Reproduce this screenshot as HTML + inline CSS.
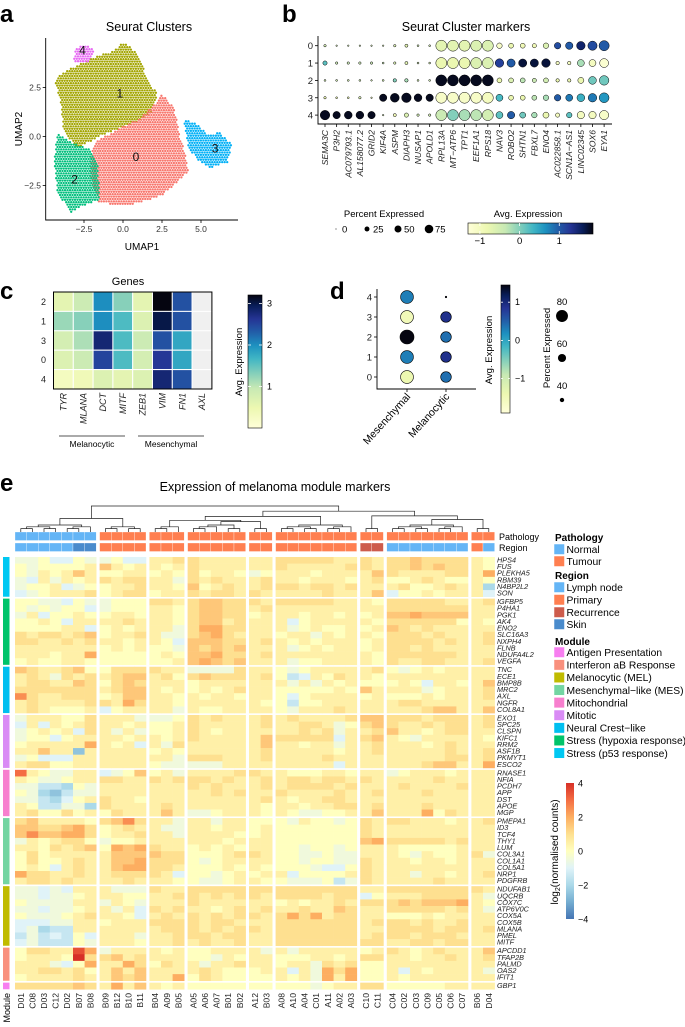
<!DOCTYPE html>
<html><head><meta charset="utf-8">
<style>
html,body{margin:0;padding:0;background:#fff;}
svg{display:block;font-family:"Liberation Sans",Arial,sans-serif;}
</style></head>
<body>
<svg id="fig" width="685" height="1027" viewBox="0 0 685 1027" xmlns="http://www.w3.org/2000/svg">
<defs>
<linearGradient id="gb" x1="0" y1="0" x2="1" y2="0">
<stop offset="0" stop-color="#ffffd9"/><stop offset="0.15" stop-color="#edf8b1"/><stop offset="0.3" stop-color="#c7e9b4"/><stop offset="0.42" stop-color="#7fcdbb"/><stop offset="0.52" stop-color="#41b6c4"/><stop offset="0.62" stop-color="#1d91c0"/><stop offset="0.72" stop-color="#225ea8"/><stop offset="0.82" stop-color="#253494"/><stop offset="0.92" stop-color="#081d58"/><stop offset="1" stop-color="#050510"/>
</linearGradient>
<linearGradient id="gv" x1="0" y1="1" x2="0" y2="0">
<stop offset="0" stop-color="#ffffd9"/><stop offset="0.15" stop-color="#edf8b1"/><stop offset="0.3" stop-color="#c7e9b4"/><stop offset="0.42" stop-color="#7fcdbb"/><stop offset="0.52" stop-color="#41b6c4"/><stop offset="0.62" stop-color="#1d91c0"/><stop offset="0.72" stop-color="#225ea8"/><stop offset="0.82" stop-color="#253494"/><stop offset="0.92" stop-color="#081d58"/><stop offset="1" stop-color="#050510"/>
</linearGradient>
<linearGradient id="gr" x1="0" y1="1" x2="0" y2="0">
<stop offset="0" stop-color="#4575b4"/><stop offset="0.125" stop-color="#74add1"/><stop offset="0.25" stop-color="#abd9e9"/><stop offset="0.375" stop-color="#e0f3f8"/><stop offset="0.5" stop-color="#ffffbf"/><stop offset="0.625" stop-color="#fee090"/><stop offset="0.75" stop-color="#fdae61"/><stop offset="0.875" stop-color="#f46d43"/><stop offset="1" stop-color="#d73027"/>
</linearGradient>
</defs>
</svg>
<script>
// ---------------- DATA ----------------
// Panel a (UMAP cluster regions in UMAP units)
const umapClusters=['0','1','2','3','4'];
const umapPoly0=[[-1.8,-0.3],[-0.5,0.3],[1,0.9],[2,1.6],[2.5,2.2],[3.3,1.4],[3.6,0.2],[4.0,-1.0],[4.2,-1.8],[3.4,-2.4],[2.5,-3.0],[0.5,-3.5],[-1.5,-3.4],[-2.0,-2.5],[-2.1,-1.2]];
const umapPoly1=[[-4.4,2.9],[-3.5,3.4],[-2,4.0],[-0.5,4.4],[0,4.8],[0.6,4.5],[1.2,3.8],[1.6,2.8],[2.2,2.2],[1.8,1.2],[0.5,0.6],[-1,0.2],[-2,-0.2],[-3.0,-0.6],[-3.8,0.3],[-4.0,1.8]];
const umapPoly2=[[-4.2,0.2],[-3.3,-0.3],[-2.2,-0.6],[-1.6,-1.5],[-1.5,-3.2],[-2.5,-3.5],[-3.3,-3.9],[-4.2,-2.9],[-4.4,-1.2]];
const umapPoly3=[[3.9,0.9],[4.8,0.6],[5.4,0.1],[6.2,0.2],[7.0,-0.4],[6.7,-1.3],[5.6,-1.6],[4.8,-1.2],[4.2,-0.6]];
const umapPoly4=[[-3.2,3.8],[-3.0,4.5],[-2.3,4.7],[-1.8,4.3],[-2.2,3.8]];
const umapLabelU=[0.83,-0.2,-3.1,5.9,-2.6];
const umapLabelV=[-1.05,2.2,-2.2,-0.6,4.4];
const umapXTicks=[-2.5,0,2.5,5];
const umapYTicks=[2.5,0,-2.5];

// Panel b (dot plot)
const bGenes=['SEMA3C','P3H2','AC079793.1','AL158077.2','GRID2','KIF4A','ASPM','DIAPH3','NUSAP1','APOLD1','RPL13A','MT−ATP6','TPT1','EEF1A1','RPS18','NAV3','ROBO2','SHTN1','FBXL7','ENO4','AC022858.1','SCN1A−AS1','LINC02345','SOX6','EYA1'];
const bClusters=['0','1','2','3','4'];
const bPct0=[5,2,2,2,2,2,5,8,3,3,100,100,100,100,100,25,20,20,15,25,35,45,60,70,85];
const bAvg0=[-0.5,-0.5,-0.5,-0.5,-0.5,-0.5,-0.6,-0.7,-0.5,-0.5,-0.7,-0.7,-0.7,-0.6,-0.6,-1.1,-0.8,-0.9,-0.9,-0.6,1.1,1.0,1.5,1.1,1.0];
const bPct1=[15,5,5,5,5,3,5,8,3,3,100,100,100,100,100,60,55,55,55,60,10,10,40,40,65];
const bAvg1=[0.2,-0.4,-0.4,-0.4,-0.4,-0.4,-0.6,-0.7,-0.5,-0.5,-0.8,-0.8,-0.8,-0.6,-0.6,1.2,1.0,1.7,1.7,1.7,-1.0,-1.0,-0.2,-1.0,-1.2];
const bPct2=[3,3,3,3,2,3,10,10,3,3,100,100,100,100,100,20,20,20,15,20,10,10,30,50,75];
const bAvg2=[-0.5,-0.5,-0.5,-0.5,-0.5,-0.5,0.0,-0.2,-0.5,-0.5,1.8,1.8,1.8,1.8,1.8,-0.8,-0.6,-0.3,-0.4,-0.5,-0.8,-0.8,-0.8,0.1,0.1];
const bPct3=[5,3,3,5,2,45,65,75,50,45,100,100,100,100,100,40,20,20,20,25,35,40,50,60,80];
const bAvg3=[-0.8,-0.8,-0.8,-0.6,-0.8,1.8,1.8,1.8,1.8,1.8,-1.1,-1.1,-1.1,-1.1,-1.0,0.3,-0.8,-0.8,-0.3,-0.2,1.0,0.8,0.4,0.8,0.6];
const bPct4=[75,45,50,50,45,2,8,15,5,5,100,100,100,100,100,40,45,30,25,30,15,25,45,45,70];
const bAvg4=[1.8,1.8,1.8,1.8,1.8,-0.5,-0.9,-0.6,-0.5,-0.5,-0.4,0.0,-0.2,-0.3,-0.5,0.2,1.0,0.1,-0.2,-0.8,-1.0,0.2,-1.0,-1.0,-1.1];
const bSizeLegend=[0,25,50,75];
const bColorTicks=[-1,0,1];

// Panel c (heatmap)
const cGenes=['TYR','MLANA','DCT','MITF','ZEB1','VIM','FN1','AXL'];
const cClusters=['2','1','3','0','4'];
const cRow2=[0.6,0.9,2.0,1.3,0.6,3.3,2.4,null];
const cRow1=[1.2,1.3,2.0,1.6,0.7,3.0,2.4,null];
const cRow3=[0.8,1.1,2.8,1.6,0.9,2.4,1.8,null];
const cRow0=[0.7,0.9,2.5,1.6,0.8,2.6,1.8,null];
const cRow4=[0.3,0.4,0.7,0.6,0.7,2.8,2.4,null];
const cColorTicks=[1,2,3];

// Panel d
const dCats=['Mesenchymal','Melanocytic'];
const dClusters=['0','1','2','3','4'];
const dPctMes=[75,75,80,75,75];
const dAvgMes=[-1.4,0.3,1.45,-1.5,0.3];
const dPctMel=[65,65,65,65,5];
const dAvgMel=[0.4,0.9,0.4,0.9,1.4];
const dColorTicks=[1,0,-1];
const dSizeLegend=[80,60,40];

// Panel e (heatmap) A=-4 ... I=0 ... Q=4 (0.5 steps)
const eCols=['D01','C08','D03','C12','D02','B07','B08','B09','B12','B10','B11','B04','A09','B05','A05','A06','A07','B01','B02','A12','B03','A08','A10','A04','C01','A11','A02','A03','C10','C11','C04','C02','C03','C09','C05','C06','C07','B06','D04'];
const eGroupSizes=[7,4,3,5,2,7,2,7,2];
const ePathology=['N','N','N','N','N','N','N','T','T','T','T','T','T','T','T','T','T','T','T','T','T','T','T','T','T','T','T','T','T','T','T','T','T','T','T','T','T','T','T'];
const eRegion=['L','L','L','L','L','S','S','P','P','P','P','P','P','P','P','P','P','P','P','P','P','P','P','P','P','P','P','P','R','R','L','L','L','L','L','L','L','P','L'];
const eModuleNames=['Stress (p53 response)','Stress (hypoxia response)','Neural Crest−like','Mitotic','Mitochondrial','Mesenchymal−like (MES)','Melanocytic (MEL)','Interferon aB Response','Antigen Presentation'];
const eModuleSizes=[6,10,7,8,7,10,9,5,1];
const eGenes=['HPS4','FUS','PLEKHA5','RBM39','N4BP2L2','SON','IGFBP5','P4HA1','PGK1','AK4','ENO2','SLC16A3','NXPH4','FLNB','NDUFA4L2','VEGFA','TNC','ECE1','BMP8B','MRC2','AXL','NGFR','COL8A1','EXO1','SPC25','CLSPN','KIFC1','RRM2','ASF1B','PKMYT1','ESCO2','RNASE1','NFIA','PCDH7','APP','DST','APOE','MGP','PMEPA1','ID3','TCF4','THY1','LUM','COL3A1','COL1A1','COL5A1','NRP1','PDGFRB','NDUFAB1','UQCRB','COX7C','ATP6V0C','COX5A','COX5B','MLANA','PMEL','MITF','APCDD1','TFAP2B','PALMD','OAS2','IFIT1','GBP1'];
const eValues=[
"HHIGGIH HIGG JJK KJJJJ JJ KKKKKJJ KJ KKLKKKK JI",
"IHIIIIJ LJIJ JIJ KJJJJ JJ KJJJJJK KJ KKLKLKK JI",
"IHJIJLJ IIJJ IJI KIJJI HI JJJIJJJ JL KJJJJKK JM",
"HGJHJIJ KJKK JJH KJKJJ JK JJIJJJI JK IIJKJII JI",
"HIIJGHI IJJK JJI LIJKJ JK KKJKKJK JJ JKIIJKJ JE",
"GHIJJJK IJKK IJJ KJKKJ KJ JJJJKJJ JL GIIJIJJ JG",
"IIHHGIH HIII KKJ KLLKK KJ KKKKKJJ JI KKKKKJJ JK",
"IHIHIIG HIII JJI KLLKK JK JJJJJJJ JJ KKKKKKK JJ",
"HJGIIJI IJJI JJI KLLKK IJ JJIJJIJ IJ LLMLLLL JJ",
"IIJIGJJ JJKJ JJI KLLJK JJ JGIJJJJ JI KKKKKKI JI",
"IIIIJJG IJIJ JJH KMMKK JJ JHIJIIJ IJ LKJKJJJ JJ",
"KJKKJKL IJJK JHH KLMKJ JJ IJJHJIJ JI KKKJKJJ JK",
"KKJJKJK JJIJ JIG LLLKK JK JIJIJJJ IJ KKKKJKJ JK",
"JJJJJJJ IJIJ IIH LKLKL JJ JHIJIJJ IJ KKJKJJJ JJ",
"JJJIJJM IIII IJI LLMKK JK JJJJJJJ JI KKKKKKJ JJ",
"IJIIJJI IIII IIJ LMLKL JJ JHIIJJJ JI KJJKKJJ JK",
"LKJJKLI IKKK KJJ HHHHK JJ IHIJJJJ JK IHIJIJJ JJ",
"JKJHKJK JKLL JKI KLKKK JK IFGJIKJ JI JJJJJJJ JJ",
"JKKJJLK IKLK JJJ IJJJJ JJ JHJHJIJ II IJIGJJI JL",
"KKKKKKK JKLL JIJ IJIJK JJ IIIIIJI LJ JJJHIJJ JK",
"NKJJKKK IJLL JJI JIJJI JJ IGIJJJJ IJ IIIJIJJ JK",
"JKJJJJK KJMK JJI JJJJJ JI IFIIJJJ JJ JKKJJJJ JJ",
"JKJIIIJ GIJJ JJH JIIJJ JJ IHJJJKJ JJ JJJKLLJ JL",
"HJJJIIK JJJH HHI KJKJJ JK JKJJJJK LL KKKJKKK JK",
"GJGJIJK JJIJ IIJ KJJJJ JK JJKKJHI KL KJJKJKK JK",
"HIJIJGK JHJH IIJ KJIJJ JJ JJKJKHJ JK LJJIJKK JJ",
"HIIGIJJ JJIJ JIJ KJJJJ JL KKKKKGJ KL JIHJJJJ JI",
"IJJJJJM JIJG JHK JJJJJ JL JJIJJHJ JK JJJIJKJ JJ",
"JJLJJDJ JJJJ IJI JJJJJ JK JJJJJIJ JK JJJJJKJ JK",
"HIGGGJJ JJJJ JJH KKKJJ JK JJJJKJJ JJ JJJJJKK JK",
"JKKIIJJ JJJJ IHH HHHJJ JJ JJJJJGJ JJ JJJKLLJ JM",
"OJIHHJJ GHIL IJH JJJJK KJ JIIIJJI JJ HIJJJIJ JJ",
"JIHHIJJ KKJJ KJK KKJKJ JK JKKJKKJ KJ JJJJKJJ JJ",
"HHFFEIH JJJJ JJJ KJKJJ JK JKKKKJK JJ JKJJJJK JJ",
"IHEDFHH JJJJ JJJ JJKJK JJ KJJJJKJ JK JJJKJJJ JJ",
"HHFEGIJ KJJI JJJ JJJJJ JK JIJJKKJ JJ JJJJJJJ JJ",
"JIFFHHE KJJJ JKJ JJJJJ JI JJIJJKK JK JJJKJJJ JJ",
"JKIIKIJ IKJJ JLJ HHIJJ JI JIHHIIJ JL JJJMIKJ JJ",
"KLJJJJI KLNK JJH JJHJJ II IHJIIHI KJ KKJJJIJ JK",
"LLKKLMK IJKJ JHH JJIJJ IJ IIIIIII KJ JJJJJJJ JJ",
"LNLLMMK IJJK JJH JJJJI IJ IIIIIII KJ JJJJJJJ JJ",
"HJIJKKI HIIJ JJJ JJJIJ JJ IIIIIII LM KKKKKJK JJ",
"JJIKJKL IMLM KJJ IJIJI JJ IIHIIHI JJ JIIIIIJ JJ",
"IKIJJJJ JLLL LKK IIIJK KJ IIHHIHH JJ JIHJIIJ KH",
"IKIIJKJ JLLM KKK IHIJJ JJ IIHIIHH KJ JJIJJIJ JJ",
"IJIGJKJ JLMM KKJ IIIJI JI IIIHGGI KJ JJJJJJJ JJ",
"MKKJJKJ JKKK KJG IIHIJ IJ JGIIIIJ KJ JJHJJIJ JK",
"JKKJKJJ JJKJ JJI IHHIJ JI IHHHIFH KJ JJJJKJJ JJ",
"HHGHGJJ JHHH KJJ KKKKK KK KKKKKKK JJ KKKKKKK KJ",
"HHGHHIJ JJII JJK KJKJK KJ KKKKJKK GI JJJKKKK JH",
"IHHHHJJ HJIH JJJ KJJJJ JJ IJIJJKJ KK KLKLLLM JI",
"HHGHHIJ JHJG KJK JJIJK JK JJKJJLK JJ KKKKKJK JH",
"IHHHIJK JJIG JKJ KJKJK KJ KMKMJKK JJ IIIJIJJ JJ",
"GGGHHJJ IJJJ KKK KJKKJ JJ KKKKKKK JK KKJKJJK JJ",
"GHEFFJJ JJJJ JKK KJKJK KJ KKKKKKK JJ KKKKJKK JK",
"FHFGFIG JJJH JJK KKJKK JJ KKKKKKK JK KKJKKKJ JJ",
"GHFFFIH JJJI JJK JKJJK JJ KKKKKKK KK JJKKJKK JJ",
"IKKJJPM HJJJ JIJ IIJJJ JH JHJJJJJ IJ KJIJKJJ JL",
"IJJJIQK KLJK JJJ IIHJI JJ IIIJJIJ KK JJIJJKJ JK",
"JJJHGIM JJMK IKJ JHJJK JJ IJJHKJK II JJJJJJJ JJ",
"JJKKJKI JLJL JJJ JKJII IJ JGJHMKM II JGJIJJJ JH",
"IJJJJKJ JLKL JJM IKJII II JIJHMJM II JIJJJJJ JJ",
"KKKKKLK JMJL JIJ IIIII II IIIHIJJ KK IIIIIJJ JJ"
];
const eScaleTicks=[4,2,0,-2,-4];
// dendrogram: [height, left, right]; 'gN' = group N subtree
const eDendroTop=[1.0,[0.52,'g0','g1'],[0.8,[0.6,[0.45,'g2',[0.4,'g3','g4']],'g5'],[0.62,'g6',[0.48,'g7','g8']]]];

// ---------------- DRAW HELPERS ----------------
const NS='http://www.w3.org/2000/svg';
const svg=document.getElementById('fig');
function mk(tag,attrs,parent){const e=document.createElementNS(NS,tag);for(const k in attrs)e.setAttribute(k,attrs[k]);(parent||svg).appendChild(e);return e;}
function txt(s,attrs,parent){const e=mk('text',attrs,parent);e.textContent=s;return e;}
function hex2rgb(h){return [parseInt(h.substr(1,2),16),parseInt(h.substr(3,2),16),parseInt(h.substr(5,2),16)];}
function interp(stops,t){t=Math.max(0,Math.min(1,t));const n=stops.length-1;const f=t*n;const i=Math.min(n-1,Math.floor(f));const u=f-i;const a=hex2rgb(stops[i]),b=hex2rgb(stops[i+1]);return 'rgb('+a.map((v,k)=>Math.round(v+(b[k]-v)*u)).join(',')+')';}
const YGB=['#ffffd9','#edf8b1','#c7e9b4','#7fcdbb','#41b6c4','#1d91c0','#225ea8','#253494','#081d58','#050510'];
const YGBpos=[0,0.15,0.3,0.42,0.52,0.62,0.72,0.82,0.92,1];
function ygb(t){t=Math.max(0,Math.min(1,t));let i=0;while(i<YGBpos.length-2&&t>YGBpos[i+1])i++;const u=(t-YGBpos[i])/(YGBpos[i+1]-YGBpos[i]);const a=hex2rgb(YGB[i]),b=hex2rgb(YGB[i+1]);return 'rgb('+a.map((v,k)=>Math.round(v+(b[k]-v)*u)).join(',')+')';}
const RDB=['#4575b4','#74add1','#abd9e9','#e0f3f8','#ffffbf','#fee090','#fdae61','#f46d43','#d73027'];
function panelLetter(s,x,y){const t=txt(s,{x:x,y:y,'font-size':24,'font-weight':'bold',fill:'#000'});

}

// ---------------- PANEL A ----------------
panelLetter('a',0,22);
const aT=txt('Seurat Clusters',{x:149,y:31,'font-size':12.5,'text-anchor':'middle'});


const ux=u=>123+u*15.6, uy=v=>136.5-v*19.6;
const aG=mk('g',{});


function inPoly(px,py,poly){let c=false;for(let i=0,j=poly.length-1;i<poly.length;j=i++){const xi=ux(poly[i][0]),yi=uy(poly[i][1]),xj=ux(poly[j][0]),yj=uy(poly[j][1]);if(((yi>py)!=(yj>py))&&(px<(xj-xi)*(py-yi)/(yj-yi)+xi))c=!c;}return c;}
const umapPolys=[umapPoly0,umapPoly1,umapPoly2,umapPoly3,umapPoly4];
const umapColors=['#F8766D','#A3A500','#00BF7D','#00B0F6','#E76BF3'];
[1,0,2,3,4].forEach(ci=>{
  const poly=umapPolys[ci];
  const xs=poly.map(p=>ux(p[0])),ys=poly.map(p=>uy(p[1]));
  const g=mk('g',{fill:umapColors[ci]},aG);
  
  
  let row=0;
  for(let y=Math.min(...ys);y<=Math.max(...ys);y+=2.4,row++){
    for(let x=Math.min(...xs)+(row%2)*1.2+ci*0.3;x<=Math.max(...xs);x+=2.5){
      if(inPoly(x,y,poly)){mk('circle',{cx:x.toFixed(1),cy:y.toFixed(1),r:1.15},g);}
    }
  }
});
umapClusters.forEach((c,i)=>{
  const t=txt(c,{x:ux(umapLabelU[i]),y:uy(umapLabelV[i])+4,'font-size':12,'text-anchor':'middle',fill:'#111'});
  
  
});
const aAx=mk('path',{d:'M45.7,38 V220 H238',stroke:'#000','stroke-width':0.9,fill:'none'});


umapXTicks.forEach(v=>{
  mk('line',{x1:ux(v),x2:ux(v),y1:220,y2:223,stroke:'#000','stroke-width':0.8});
  const t=txt(v.toFixed(1).replace('-','−'),{x:ux(v),y:232,'font-size':8.5,'text-anchor':'middle',fill:'#333'});
  
  
});
umapYTicks.forEach(v=>{
  mk('line',{x1:42.7,x2:45.7,y1:uy(v),y2:uy(v),stroke:'#000','stroke-width':0.8});
  const t=txt(v.toFixed(1).replace('-','−'),{x:41,y:uy(v)+3,'font-size':8.5,'text-anchor':'end',fill:'#333'});
  
  
});
const ax1=txt('UMAP1',{x:142,y:250,'font-size':10,'text-anchor':'middle'});


const ax2=txt('UMAP2',{x:0,y:0,'font-size':10,'text-anchor':'middle',transform:'translate(22,129) rotate(-90)'});



// ---------------- PANEL B ----------------
panelLetter('b',282,22);
const bT=txt('Seurat Cluster markers',{x:466,y:31,'font-size':12.5,'text-anchor':'middle'});


const bx=i=>325+i*11.63, by=r=>45.7+r*17.35;
const bMin=-1.3,bMax=1.85;
const bcol=v=>ygb((v-bMin)/(bMax-bMin));
const brad=p=>Math.max(0.6,5.5*Math.sqrt(p/100));
const bAx=mk('path',{d:'M318,36 V124 H612',stroke:'#000','stroke-width':0.9,fill:'none'});


const bPcts=[bPct0,bPct1,bPct2,bPct3,bPct4], bAvgs=[bAvg0,bAvg1,bAvg2,bAvg3,bAvg4];
bClusters.forEach((c,r)=>{
  mk('line',{x1:315,x2:318,y1:by(r),y2:by(r),stroke:'#000','stroke-width':0.8});
  const t=txt(c,{x:313,y:by(r)+3.5,'font-size':9.5,'text-anchor':'end',fill:'#222'});
  
  
  bGenes.forEach((g,i)=>{
    const d=mk('circle',{cx:bx(i),cy:by(r),r:brad(bPcts[r][i]),fill:bcol(bAvgs[r][i]),stroke:'#000','stroke-width':0.5});
    
    
  });
});
bGenes.forEach((g,i)=>{
  mk('line',{x1:bx(i),x2:bx(i),y1:124,y2:127,stroke:'#000','stroke-width':0.8});
  const t=txt(g,{x:0,y:0,'font-size':8.6,'font-style':'italic','text-anchor':'end',fill:'#222',transform:'translate('+(bx(i)+3)+',130) rotate(-90)'});
  
  
});
const bPL=txt('Percent Expressed',{x:384,y:217,'font-size':9.5,'text-anchor':'middle'});


bSizeLegend.forEach((p,i)=>{
  const x=336+i*31;
  const c=mk('circle',{cx:x,cy:229,r:brad(p)*0.9,fill:'#000'});
  
  
  const t=txt(String(p),{x:x+6,y:232.5,'font-size':9.5});
  
  
});
const bCL=txt('Avg. Expression',{x:528,y:217,'font-size':9.5,'text-anchor':'middle'});


const bBar=mk('rect',{x:468,y:223,width:125,height:11,fill:'url(#gb)',stroke:'#000','stroke-width':0.6});


bColorTicks.forEach(v=>{
  const x=468+(v-bMin)/(bMax-bMin)*125;
  mk('line',{x1:x,x2:x,y1:223,y2:226,stroke:'#fff','stroke-width':0.8});
  mk('line',{x1:x,x2:x,y1:231,y2:234,stroke:'#fff','stroke-width':0.8});
  const t=txt(String(v).replace('-','−'),{x:x,y:244,'font-size':9.5,'text-anchor':'middle'});
  
  
});

// ---------------- PANEL C ----------------
panelLetter('c',0,299);
const cT=txt('Genes',{x:128,y:285,'font-size':11,'text-anchor':'middle'});


const cRows=[cRow2,cRow1,cRow3,cRow0,cRow4];
const cMax=3.2, cx=j=>53.5+j*19.8, cy=i=>292+i*19.4;
mk('rect',{x:53.5,y:292,width:158.4,height:97,fill:'#fff',stroke:'#000','stroke-width':1});
cRows.forEach((row,i)=>{
  const t=txt(cClusters[i],{x:46,y:cy(i)+13,'font-size':9,'text-anchor':'end',fill:'#222'});
  
  
  row.forEach((v,j)=>{
    const r=mk('rect',{x:cx(j),y:cy(i),width:19.8,height:19.4,fill:v===null?'#f0f0f0':ygb(v/cMax),stroke:'#fff','stroke-width':1});
    
    
  });
});
mk('rect',{x:53.5,y:292,width:158.4,height:97,fill:'none',stroke:'#000','stroke-width':1});
cGenes.forEach((g,j)=>{
  const t=txt(g,{x:0,y:0,'font-size':9,'font-style':'italic','text-anchor':'end',fill:'#222',transform:'translate('+(cx(j)+13)+',393) rotate(-90)'});
  
  
});
const gl1=mk('line',{x1:59,x2:125,y1:436,y2:436,stroke:'#777','stroke-width':1.2});


const gl2=mk('line',{x1:138,x2:204,y1:436,y2:436,stroke:'#777','stroke-width':1.2});


const gt1=txt('Melanocytic',{x:92,y:447,'font-size':8.5,'text-anchor':'middle'});


const gt2=txt('Mesenchymal',{x:171,y:447,'font-size':8.5,'text-anchor':'middle'});


const cBar=mk('rect',{x:248,y:295,width:14,height:133,fill:'url(#gv)',stroke:'#000','stroke-width':0.6});


cColorTicks.forEach(v=>{
  const y=428-v*41.5;
  mk('line',{x1:248,x2:251,y1:y,y2:y,stroke:'#fff','stroke-width':0.8});
  mk('line',{x1:259,x2:262,y1:y,y2:y,stroke:'#fff','stroke-width':0.8});
  const t=txt(String(v),{x:267,y:y+3,'font-size':9});
  
  
});
const cCL=txt('Avg. Expression',{x:0,y:0,'font-size':9.5,'text-anchor':'middle',transform:'translate(242,362) rotate(-90)'});



// ---------------- PANEL D ----------------
panelLetter('d',330,299);
const dy=k=>377-k*20, dx=j=>407+j*39;
const dMin=-1.9,dMax=1.45;
const dcol=v=>ygb((v-dMin)/(dMax-dMin));
const drad=p=>p<20?0.8:2+(p-35)/45*5;
const dAx=mk('path',{d:'M377,289 V389 H476',stroke:'#000','stroke-width':0.9,fill:'none'});


dClusters.forEach((c,k)=>{
  mk('line',{x1:374,x2:377,y1:dy(k),y2:dy(k),stroke:'#000','stroke-width':0.8});
  const t=txt(c,{x:372,y:dy(k)+3.5,'font-size':9.5,'text-anchor':'end',fill:'#222'});
  
  
  const a=mk('circle',{cx:dx(0),cy:dy(k),r:drad(dPctMes[k]),fill:dcol(dAvgMes[k]),stroke:'#000','stroke-width':0.6});
  
  
  const b=mk('circle',{cx:dx(1),cy:dy(k),r:drad(dPctMel[k]),fill:dcol(dAvgMel[k]),stroke:'#000','stroke-width':0.6});
  
  
});
dCats.forEach((s,j)=>{
  mk('line',{x1:dx(j),x2:dx(j),y1:389,y2:392,stroke:'#000','stroke-width':0.8});
  const t=txt(s,{x:0,y:0,'font-size':10.5,'text-anchor':'end',transform:'translate('+(dx(j)+4)+',397) rotate(-48)'});
  
  
});
const dBar=mk('rect',{x:501,y:285,width:9,height:128,fill:'url(#gv)',stroke:'#000','stroke-width':0.6});


dColorTicks.forEach(v=>{
  const y=413-(v-dMin)/(dMax-dMin)*128;
  mk('line',{x1:501,x2:503,y1:y,y2:y,stroke:'#fff','stroke-width':0.8});
  mk('line',{x1:508,x2:510,y1:y,y2:y,stroke:'#fff','stroke-width':0.8});
  const t=txt(String(v).replace('-','−'),{x:515,y:y+3,'font-size':9});
  
  
});
const dCL=txt('Avg. Expression',{x:0,y:0,'font-size':9.5,'text-anchor':'middle',transform:'translate(492,350) rotate(-90)'});


const dPL=txt('Percent Expressed',{x:0,y:0,'font-size':9.5,'text-anchor':'middle',transform:'translate(550,348) rotate(-90)'});


dSizeLegend.forEach((p,i)=>{
  const t=txt(String(p),{x:562,y:305+i*42,'font-size':9.5,'text-anchor':'middle'});
  
  
  const c=mk('circle',{cx:562,cy:316+i*42,r:drad(p)*0.85,fill:'#000'});
  
  
});

// ---------------- PANEL E ----------------
panelLetter('e',0,491);
const eT=txt('Expression of melanoma module markers',{x:275,y:491,'font-size':12.5,'text-anchor':'middle'});


const eGroupOf=[];eGroupSizes.forEach((n,g)=>{for(let k=0;k<n;k++)eGroupOf.push(g);});
const CW=11.6;
const ex=j=>15+j*CW+eGroupOf[j]*3.4;
const eModOf=[];eModuleSizes.forEach((n,m)=>{for(let k=0;k<n;k++)eModOf.push(m);});
const RH=6.62;
const ey=i=>557+i*RH+eModOf[i]*1.9;
const eColor=v=>interp(RDB,(v+4)/8);
const modColors=['#00c8f2','#00c46a','#00bff0','#d98bf5','#f77fce','#73d5a2','#c0bb00','#f9907d','#f77ef0'];
const hG=mk('g',{});


eValues.forEach((s,i)=>{
  const row=s.replace(/ /g,'');
  for(let j=0;j<eCols.length;j++){
    const v=(row.charCodeAt(j)-73)*0.5;
    const r=mk('rect',{x:ex(j).toFixed(2),y:ey(i).toFixed(2),width:CW+0.3,height:RH+0.3,fill:eColor(v)},hG);
    
    
  }
  const t=txt(eGenes[i],{x:497,y:ey(i)+5.5,'font-size':7.3,'font-style':'italic',fill:'#222'});
  
  
});
// module side bars
let startRow=0;
eModuleSizes.forEach((n,m)=>{
  const r=mk('rect',{x:3,y:ey(startRow),width:6.5,height:n*RH,fill:modColors[m]});
  
  
  startRow+=n;
});
// annotation bars
const pathCol={N:'#64b5f6',T:'#ff7f50'};
const regCol={L:'#64b5f6',P:'#ff7f50',R:'#cd5c4c',S:'#4a8bcc'};
eCols.forEach((c,j)=>{
  const p=mk('rect',{x:ex(j),y:532,width:CW,height:8.5,fill:pathCol[ePathology[j]],stroke:'#fff','stroke-width':0.3});
  
  
  const r=mk('rect',{x:ex(j),y:543,width:CW,height:8.5,fill:regCol[eRegion[j]],stroke:'#fff','stroke-width':0.3});
  
  
  const t=txt(c,{x:0,y:0,'font-size':8.6,'text-anchor':'end',fill:'#222',transform:'translate('+(ex(j)+CW/2+3)+',993) rotate(-90)'});
  
  
});
const pl=txt('Pathology',{x:499,y:540,'font-size':9});


const rl=txt('Region',{x:499,y:551,'font-size':9});


const ml=txt('Module',{x:0,y:0,'font-size':9,'text-anchor':'end',transform:'translate(10,993) rotate(-90)'});


// dendrogram
const dg=mk('g',{stroke:'#222','stroke-width':0.7,fill:'none'});


const dendY=h=>532-h*26;
function buildGroup(list){if(list.length===1)return {leaf:list[0]};const mid=Math.ceil(list.length/2);return {h:0.06+0.07*Math.ceil(Math.log2(list.length)),l:buildGroup(list.slice(0,mid)),r:buildGroup(list.slice(mid))};}
const groupLists=[];{let k=0;eGroupSizes.forEach(n=>{const a=[];for(let i=0;i<n;i++)a.push(k++);groupLists.push(a);});}
function toNode(spec){if(typeof spec==='string')return buildGroup(groupLists[+spec.slice(1)]);return {h:spec[0],l:toNode(spec[1]),r:toNode(spec[2])};}
function drawNode(n){if(n.leaf!==undefined)return {x:ex(n.leaf)+CW/2,h:0};const a=drawNode(n.l),b=drawNode(n.r);
  mk('path',{d:'M'+a.x.toFixed(1)+','+dendY(a.h).toFixed(1)+' V'+dendY(n.h).toFixed(1)+' H'+b.x.toFixed(1)+' V'+dendY(b.h).toFixed(1)},dg);
  return {x:(a.x+b.x)/2,h:n.h};}
drawNode(toNode(eDendroTop));
// legends
function legHeader(s,y){const t=txt(s,{x:555,y:y,'font-size':10,'font-weight':'bold'});

}
function legItem(s,col,y){const r=mk('rect',{x:554,y:y-9,width:10.5,height:10.5,fill:col,stroke:'#fff','stroke-width':0.5});


const t=txt(s,{x:566.5,y:y,'font-size':10.3});

}
legHeader('Pathology',541);
legItem('Normal','#64b5f6',553);legItem('Tumour','#ff7f50',565);
legHeader('Region',579);
legItem('Lymph node','#64b5f6',591);legItem('Primary','#ff7f50',603.5);legItem('Recurrence','#cd5c4c',616);legItem('Skin','#4a8bcc',628);
legHeader('Module',645);
const legMods=[['Antigen Presentation','#f77ef0'],['Interferon aB Response','#f9907d'],['Melanocytic (MEL)','#c0bb00'],['Mesenchymal−like (MES)','#73d5a2'],['Mitochondrial','#f77fce'],['Mitotic','#d98bf5'],['Neural Crest−like','#00bff0'],['Stress (hypoxia response)','#00c46a'],['Stress (p53 response)','#00c8f2']];
legMods.forEach((m,i)=>legItem(m[0],m[1],656+i*12.6));
const eBar=mk('rect',{x:566,y:783,width:8,height:136,fill:'url(#gr)'});


eScaleTicks.forEach(v=>{
  const y=851-v*17;
  const t=txt(String(v).replace('-','−'),{x:578,y:y+3.5,'font-size':9});
  
  
});
const eCL=mk('text',{x:0,y:0,'font-size':10,'text-anchor':'middle',transform:'translate(558,852) rotate(-90)'});


eCL.appendChild(document.createTextNode('log'));
const sub=mk('tspan',{'font-size':7,dy:2},eCL);sub.textContent='2';
const rest=mk('tspan',{dy:-2},eCL);rest.textContent='(normalised counts)';
</script>
</body></html>
